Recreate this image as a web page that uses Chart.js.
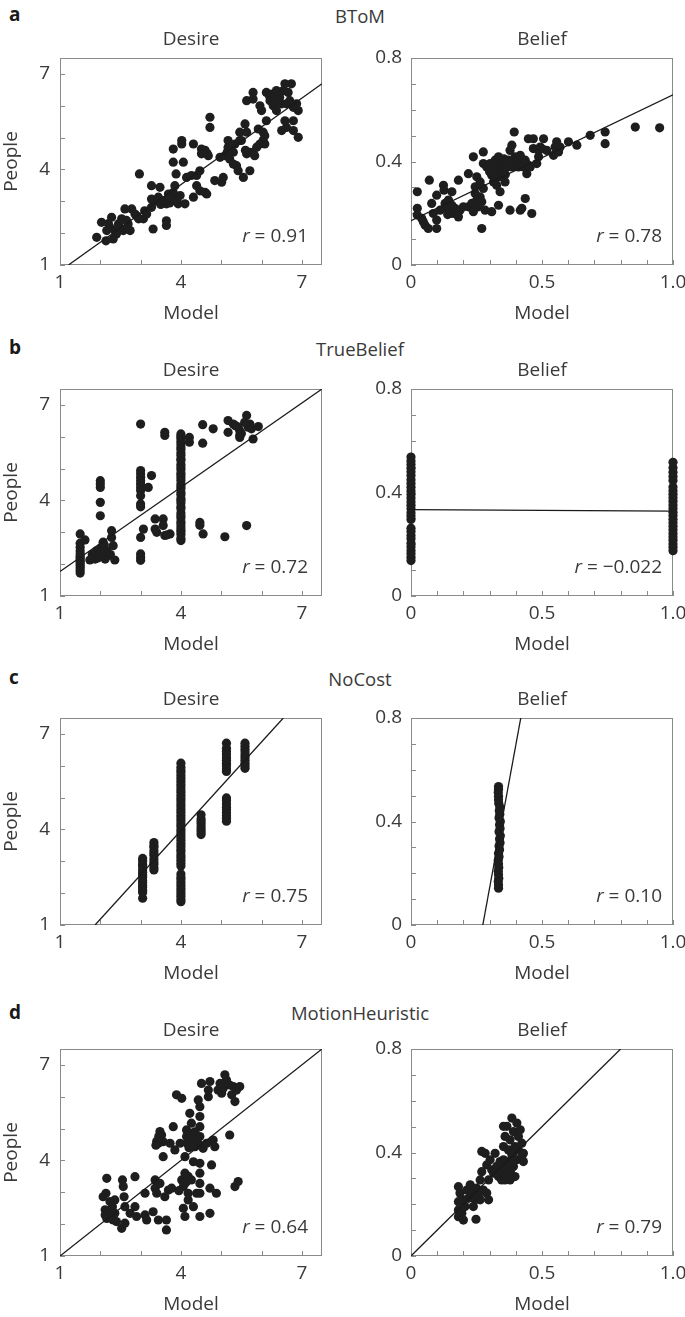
<!DOCTYPE html>
<html>
<head>
<meta charset="utf-8">
<script src="https://cdn.jsdelivr.net/npm/chart.js@4.4.1/dist/chart.umd.min.js"></script>
<style>
  body { margin: 0; background: #fff; width: 685px; height: 1317px; position: relative; overflow: hidden; }
  .lbl { position: absolute; font-family: 'Open Sans', 'Noto Sans', sans-serif; color: #3a3a3a; line-height: 22px; }
  .let { font-weight: bold; font-size: 19px; left: 9px; color: #1a1a1a; }
  .row { font-size: 18.5px; width: 300px; left: 210px; text-align: center; }
  canvas { position: absolute; }
</style>
</head>
<body>
<div class="lbl let" style="top:3px">a</div>
<div class="lbl row" style="top:5px">BToM</div>
<div class="lbl let" style="top:336px">b</div>
<div class="lbl row" style="top:338px">TrueBelief</div>
<div class="lbl let" style="top:666px">c</div>
<div class="lbl row" style="top:668px">NoCost</div>
<div class="lbl let" style="top:1001px">d</div>
<div class="lbl row" style="top:1002px">MotionHeuristic</div>
<script>
// tick positions and labels
var desireTicks = [1, 2, 3, 4, 5, 6, 7];
var desireLabelAt = [1, 4, 7];
var desireLabelText = ["1", "4", "7"];
var beliefXTicks = [0, 0.1, 0.2, 0.3, 0.4, 0.5, 0.6, 0.7, 0.8, 0.9, 1.0];
var beliefXLabelAt = [0, 0.5, 1.0];
var beliefXLabelText = ["0", "0.5", "1.0"];
var beliefYTicks = [0, 0.1, 0.2, 0.3, 0.4, 0.5, 0.6, 0.7, 0.8];
var beliefYLabelAt = [0, 0.4, 0.8];
var beliefYLabelText = ["0", "0.4", "0.8"];

// correlations
var rValues = ["0.91", "0.78", "0.72", "\u22120.022", "0.75", "0.10", "0.64", "0.79"];

// fitted lines (two ends)
var btomDesireFit = [[1.21, 1], [7.5, 6.69]];
var btomBeliefFit = [[0, 0.171], [1, 0.658]];
var trueDesireFit = [[1, 1.77], [7.5, 7.5]];
var trueBeliefFit = [[0, 0.334], [1, 0.328]];
var noCostDesireFit = [[1.87, 1], [6.54, 7.5]];
var noCostBeliefFit = [[0.274, 0], [0.419, 0.8]];
var motionDesireFit = [[1, 1], [7.5, 7.5]];
var motionBeliefFit = [[0, 0], [0.8, 0.8]];

// scatter points [model, people]
var btomDesire = [[1.91,1.87],[2.03,2.34],[2.14,1.76],[2.28,2.50],[2.32,1.82],[2.36,2.08],[2.24,2.18],[2.45,2.29],[2.53,2.45],[2.57,2.08],
  [2.69,2.29],[2.74,2.08],[2.78,2.76],[2.61,2.76],[2.86,2.60],[2.16,2.08],[2.40,1.97],[2.48,2.18],[2.20,2.30],[2.65,2.40],
  [2.97,3.86],[2.90,2.55],[3.07,2.45],[3.15,2.60],[3.31,2.13],[3.27,2.81],[3.27,3.07],[3.27,3.49],[3.48,3.44],[3.44,3.13],
  [3.56,3.02],[3.69,3.23],[3.64,2.92],[3.64,2.39],[3.64,2.24],[3.77,3.02],[3.81,3.28],[3.85,3.49],[3.88,3.86],[3.81,4.23],
  [3.81,4.64],[3.89,3.07],[3.93,2.92],[3.98,3.18],[4.02,4.91],[4.02,4.80],[4.06,4.23],[4.10,2.92],[4.14,3.75],[4.26,3.81],
  [4.31,4.80],[4.31,3.13],[4.39,3.81],[4.39,3.49],[4.47,3.96],[4.47,3.33],[4.51,4.64],[4.55,4.54],[4.60,3.28],[4.64,3.23],
  [4.51,4.49],[4.68,4.43],[4.72,5.64],[4.72,5.32],[4.84,3.65],[4.97,4.38],[5.01,3.60],[5.05,3.75],[5.09,4.43],[5.17,4.70],
  [5.17,4.91],[5.21,4.33],[5.30,4.54],[5.30,4.17],[5.38,4.12],[5.34,4.80],[5.42,3.96],[5.46,5.17],[5.46,4.91],[5.50,4.91],
  [5.55,3.75],[5.59,5.43],[5.63,5.17],[5.63,4.49],[5.71,4.54],[5.71,3.96],[5.63,6.16],[5.79,6.42],[5.79,6.21],[5.79,4.54],
  [5.83,4.43],[5.88,4.70],[5.92,5.27],[5.96,4.80],[6.04,4.91],[6.08,5.06],[6.08,4.80],[6.04,5.17],[6.12,5.53],[5.96,6.00],
  [6.00,5.85],[6.12,6.42],[6.21,6.16],[6.26,6.37],[6.29,6.00],[6.33,6.21],[6.37,6.48],[6.45,6.27],[6.50,6.06],[6.54,6.48],
  [6.58,6.69],[6.62,6.06],[6.66,6.42],[6.74,6.69],[6.70,6.16],[6.79,5.95],[6.87,6.06],[6.91,5.85],[6.50,5.22],[6.62,5.32],
  [6.79,5.53],[6.79,5.22],[6.91,5.01],[6.58,5.53],[6.37,5.85],[3.72,2.95],[3.78,3.12],[3.90,3.00],[3.70,3.10],[4.60,4.60],
  [4.65,4.50],[5.15,4.55],[5.25,4.70],[3.35,3.00],[3.50,2.90],[3.10,2.70],[2.95,2.45],[5.60,4.60],[6.20,6.30],[6.40,6.10]];

var btomBelief = [[0.024,0.283],[0.024,0.219],[0.024,0.193],[0.041,0.180],[0.047,0.167],[0.054,0.154],[0.066,0.141],[0.070,0.328],[0.079,0.238],[0.085,0.199],
  [0.098,0.270],[0.098,0.174],[0.098,0.141],[0.111,0.212],[0.124,0.308],[0.126,0.289],[0.130,0.238],[0.136,0.219],[0.143,0.251],[0.149,0.212],
  [0.156,0.283],[0.156,0.231],[0.162,0.199],[0.168,0.219],[0.175,0.212],[0.181,0.328],[0.181,0.186],[0.187,0.212],[0.219,0.353],[0.219,0.225],
  [0.232,0.238],[0.238,0.206],[0.238,0.418],[0.245,0.302],[0.245,0.276],[0.251,0.341],[0.251,0.251],[0.257,0.225],[0.264,0.321],[0.264,0.263],
  [0.270,0.244],[0.270,0.141],[0.276,0.296],[0.276,0.437],[0.276,0.392],[0.283,0.212],[0.289,0.379],[0.302,0.392],[0.308,0.206],[0.308,0.347],
  [0.315,0.321],[0.315,0.379],[0.321,0.405],[0.327,0.353],[0.327,0.308],[0.334,0.231],[0.334,0.418],[0.340,0.379],[0.340,0.283],[0.346,0.341],
  [0.353,0.392],[0.353,0.360],[0.359,0.321],[0.366,0.379],[0.372,0.405],[0.378,0.212],[0.378,0.443],[0.385,0.463],[0.385,0.379],[0.391,0.386],
  [0.394,0.514],[0.397,0.418],[0.404,0.398],[0.410,0.379],[0.417,0.424],[0.417,0.212],[0.423,0.219],[0.423,0.392],[0.429,0.379],[0.436,0.405],
  [0.436,0.257],[0.442,0.353],[0.448,0.488],[0.448,0.386],[0.455,0.379],[0.461,0.199],[0.467,0.488],[0.467,0.450],[0.480,0.392],[0.487,0.418],
  [0.487,0.443],[0.493,0.456],[0.499,0.450],[0.506,0.488],[0.518,0.443],[0.544,0.424],[0.550,0.456],[0.556,0.476],[0.563,0.437],[0.569,0.456],
  [0.601,0.476],[0.633,0.463],[0.684,0.501],[0.741,0.514],[0.741,0.469],[0.856,0.533],[0.949,0.530],[0.330,0.370],[0.345,0.395],[0.360,0.350],
  [0.325,0.335],[0.355,0.410],[0.300,0.360],[0.150,0.200],[0.200,0.225],[0.140,0.195]];

var trueDesire = [[1.5,1.72],[1.5,1.80],[1.5,1.88],[1.5,1.95],[1.5,2.01],[1.5,2.08],[1.5,2.13],[1.5,2.19],[1.5,2.24],[1.5,2.32],
  [1.5,2.41],[1.5,2.53],[1.5,2.66],[1.5,2.95],[1.62,2.76],[1.74,2.13],[1.87,2.16],[1.91,2.42],[2.0,4.62],[2.0,4.52],
  [2.0,4.41],[2.0,3.94],[2.0,3.52],[2.0,2.32],[2.03,2.53],[2.07,2.69],[2.12,2.16],[2.16,2.42],[2.20,2.27],[2.28,2.84],
  [2.28,3.05],[2.32,2.58],[2.36,2.13],[1.95,2.20],[2.10,2.60],[2.25,2.30],[1.80,2.30],[2.05,2.40],
  [3.0,4.94],[3.0,4.84],[3.0,4.73],[3.0,4.62],[3.0,4.52],[3.0,4.41],[3.0,4.31],[3.0,4.15],[3.0,3.89],[3.0,3.80],
  [3.0,2.32],[3.0,2.22],[3.0,2.12],[3.0,2.84],[3.19,4.41],[3.27,4.78],[3.07,3.10],[3.0,6.40],
  [3.36,3.42],[3.40,3.00],[3.36,3.10],[3.56,3.42],[3.56,3.21],[3.60,6.14],[3.60,6.04],[3.60,2.90],[3.73,2.95],[3.66,2.92],
  [4.0,2.74],[4.0,2.81],[4.0,2.93],[4.0,3.02],[4.0,3.08],[4.0,3.17],[4.0,3.26],[4.0,3.33],[4.0,3.45],[4.0,3.52],
  [4.0,3.61],[4.0,3.74],[4.0,3.80],[4.0,3.92],[4.0,4.00],[4.0,4.06],[4.0,4.18],[4.0,4.25],[4.0,4.37],[4.0,4.44],
  [4.0,4.52],[4.0,4.63],[4.0,4.71],[4.0,4.80],[4.0,4.86],[4.0,4.97],[4.0,5.05],[4.0,5.14],[4.0,5.26],[4.0,5.31],
  [4.0,5.42],[4.0,5.50],[4.0,5.61],[4.0,5.68],[4.0,5.77],[4.0,5.86],[4.0,5.95],[4.0,6.02],[4.0,6.09],
  [4.21,5.98],[4.21,5.83],[4.47,3.31],[4.47,3.22],[4.55,2.95],[4.54,6.38],[4.54,5.80],[4.80,6.25],[5.09,2.86],[5.17,6.51],
  [5.17,6.14],[5.30,6.40],[5.42,6.30],[5.46,6.19],[5.46,5.98],[5.63,6.67],[5.67,6.30],[5.71,6.40],[5.75,6.25],[5.92,6.32],
  [5.79,5.93],[5.63,3.21],[5.50,6.10],[5.58,6.45],[5.35,6.35],[5.46,6.05]];

var trueBelief = [[0,0.137],[0,0.150],[0,0.163],[0,0.176],[0,0.190],[0,0.204],[0,0.221],[0,0.234],[0,0.249],[0,0.262],
  [0,0.296],[0,0.309],[0,0.322],[0,0.337],[0,0.351],[0,0.364],[0,0.379],[0,0.392],[0,0.406],[0,0.420],
  [0,0.435],[0,0.449],[0,0.466],[0,0.480],[0,0.494],[0,0.508],[0,0.522],[0,0.537],
  [1,0.175],[1,0.188],[1,0.201],[1,0.215],[1,0.228],[1,0.242],[1,0.256],[1,0.270],[1,0.283],[1,0.297],
  [1,0.311],[1,0.324],[1,0.338],[1,0.352],[1,0.366],[1,0.380],[1,0.393],[1,0.407],[1,0.421],[1,0.446],
  [1,0.462],[1,0.478],[1,0.496],[1,0.517]];

var noCostDesire = [[3.05,1.84],[3.05,2.02],[3.05,2.09],[3.05,2.18],[3.05,2.24],[3.05,2.33],[3.05,2.40],[3.05,2.51],[3.05,2.57],[3.05,2.66],
  [3.05,2.74],[3.05,2.85],[3.05,2.91],[3.05,3.01],[3.05,3.09],
  [3.33,2.73],[3.33,2.80],[3.33,2.91],[3.33,2.98],[3.33,3.07],[3.33,3.18],[3.33,3.25],[3.33,3.33],[3.33,3.44],[3.33,3.50],[3.33,3.59],
  [4.0,1.73],[4.0,1.81],[4.0,1.90],[4.0,1.98],[4.0,2.07],[4.0,2.15],[4.0,2.24],[4.0,2.33],[4.0,2.42],[4.0,2.50],[4.0,2.60],
  [4.0,2.85],[4.0,2.94],[4.0,3.03],[4.0,3.12],[4.0,3.20],[4.0,3.30],[4.0,3.38],[4.0,3.47],[4.0,3.56],[4.0,3.65],
  [4.0,3.74],[4.0,3.83],[4.0,3.92],[4.0,4.00],[4.0,4.10],[4.0,4.18],[4.0,4.27],[4.0,4.36],[4.0,4.45],[4.0,4.54],
  [4.0,4.62],[4.0,4.71],[4.0,4.80],[4.0,4.89],[4.0,4.98],[4.0,5.07],[4.0,5.16],[4.0,5.24],[4.0,5.33],[4.0,5.42],
  [4.0,5.51],[4.0,5.60],[4.0,5.69],[4.0,5.78],[4.0,5.86],[4.0,5.95],[4.0,6.08],
  [4.5,3.84],[4.5,3.92],[4.5,4.00],[4.5,4.08],[4.5,4.17],[4.5,4.25],[4.5,4.33],[4.5,4.46],
  [5.13,5.82],[5.13,5.90],[5.13,6.00],[5.13,6.08],[5.13,6.17],[5.13,6.25],[5.13,6.35],[5.13,6.45],[5.13,6.55],[5.13,6.71],
  [5.13,4.26],[5.13,4.35],[5.13,4.44],[5.13,4.53],[5.13,4.62],[5.13,4.70],[5.13,4.80],[5.13,4.90],[5.13,4.99],
  [5.59,5.92],[5.59,6.00],[5.59,6.08],[5.59,6.17],[5.59,6.26],[5.59,6.34],[5.59,6.43],[5.59,6.52],[5.59,6.61],[5.59,6.71]];

var noCostBelief = [[0.334,0.142],[0.334,0.155],[0.333,0.168],[0.335,0.181],[0.334,0.195],[0.333,0.208],[0.335,0.222],[0.334,0.236],[0.333,0.250],[0.336,0.264],
  [0.334,0.277],[0.338,0.291],[0.336,0.305],[0.340,0.318],[0.338,0.332],[0.341,0.345],[0.336,0.360],[0.340,0.373],[0.338,0.387],[0.341,0.400],
  [0.336,0.414],[0.339,0.428],[0.337,0.442],[0.339,0.456],[0.335,0.470],[0.334,0.484],[0.334,0.498],[0.333,0.512],[0.334,0.525],[0.334,0.535]];

var motionDesire = [[2.16,3.44],[2.14,2.97],[2.07,2.86],[2.12,2.45],[2.12,2.29],[2.16,2.18],[2.24,2.71],[2.28,2.18],[2.32,2.13],[2.36,2.34],
  [2.36,2.76],[2.40,2.08],[2.53,1.87],[2.55,3.39],[2.57,3.18],[2.59,2.86],[2.61,2.03],[2.61,2.55],[2.74,2.34],[2.86,3.49],
  [2.86,2.55],[2.90,2.24],[3.11,2.97],[3.11,2.29],[3.15,2.13],[3.31,2.39],[3.36,3.39],[3.36,3.13],[3.40,2.97],[3.44,2.13],
  [3.48,3.28],[3.48,4.91],[3.44,4.54],[3.52,4.80],[3.56,4.59],[3.56,4.12],[3.60,2.86],[3.64,2.13],[3.64,1.82],[3.69,3.07],
  [3.73,4.54],[3.77,3.13],[3.81,5.06],[3.85,4.33],[3.89,6.06],[4.02,5.95],[3.98,4.54],[4.02,3.39],[4.06,3.18],[4.06,2.50],
  [4.10,4.12],[4.10,3.60],[4.10,2.24],[4.14,4.75],[4.14,4.96],[4.18,2.97],[4.18,2.76],[4.22,5.48],[4.22,4.43],[4.26,5.17],
  [4.26,3.39],[4.31,2.55],[4.31,3.96],[4.35,4.75],[4.35,4.43],[4.39,2.97],[4.43,5.90],[4.47,5.69],[4.47,5.38],[4.47,5.06],
  [4.47,4.75],[4.47,3.91],[4.47,3.60],[4.47,3.28],[4.47,2.97],[4.47,2.24],[4.51,6.42],[4.55,4.38],[4.64,4.54],[4.68,6.21],
  [4.68,6.00],[4.72,6.48],[4.72,3.13],[4.72,2.34],[4.76,3.86],[4.80,4.64],[4.84,4.43],[4.88,2.97],[4.92,6.21],[4.97,6.42],
  [5.01,6.11],[5.05,6.27],[5.09,6.69],[5.13,6.53],[5.21,6.37],[5.26,6.06],[5.30,6.32],[5.34,5.85],[5.38,6.21],[5.21,4.80],
  [5.34,3.18],[5.42,3.34],[5.46,6.32],[4.20,4.60],[4.25,4.85],[4.30,4.70],[4.15,4.55],[4.35,4.90],[4.40,4.65],[4.45,4.50],
  [4.20,4.40],[4.30,4.45],[3.40,4.60],[3.45,4.75],[3.38,4.48],[4.12,3.30],[4.18,3.50],[3.95,3.05],[2.20,2.40],[2.30,2.55]];

var motionBelief = [[0.181,0.268],[0.181,0.210],[0.181,0.178],[0.181,0.152],[0.187,0.243],[0.194,0.165],[0.200,0.139],[0.200,0.217],[0.206,0.191],[0.213,0.255],
  [0.219,0.223],[0.226,0.275],[0.232,0.243],[0.238,0.191],[0.245,0.217],[0.248,0.142],[0.251,0.262],[0.257,0.236],[0.264,0.294],[0.264,0.217],
  [0.270,0.404],[0.270,0.326],[0.276,0.255],[0.283,0.397],[0.289,0.352],[0.289,0.243],[0.296,0.294],[0.296,0.217],[0.302,0.372],[0.308,0.333],
  [0.315,0.320],[0.321,0.397],[0.327,0.346],[0.334,0.307],[0.340,0.326],[0.340,0.365],[0.346,0.294],[0.353,0.423],[0.353,0.372],[0.359,0.462],
  [0.359,0.346],[0.359,0.294],[0.366,0.501],[0.366,0.313],[0.372,0.410],[0.372,0.365],[0.378,0.294],[0.378,0.449],[0.385,0.533],[0.385,0.391],
  [0.391,0.346],[0.391,0.481],[0.397,0.423],[0.397,0.307],[0.404,0.514],[0.404,0.372],[0.410,0.462],[0.410,0.410],[0.417,0.488],[0.423,0.436],
  [0.423,0.385],[0.429,0.397],[0.429,0.365],[0.353,0.501],[0.365,0.340],[0.380,0.330],[0.390,0.400],[0.370,0.300],[0.345,0.330],[0.385,0.360]];

var FONT = "'Open Sans', 'Noto Sans', sans-serif";
var TEXT = "#3a3a3a";
var SIZE = 19;

function pts(list) {
  return list.map(function (p) { return { x: p[0], y: p[1] }; });
}

function labelFor(at, text) {
  return function (v) {
    for (var i = 0; i < at.length; i++) {
      if (Math.abs(at[i] - v) < 1e-6) return text[i];
    }
    return "";
  };
}

// box round the plot, inward ticks and the r label
var frame = {
  id: "frame",
  beforeDatasetsDraw: function (chart) {
    var ctx = chart.ctx, a = chart.chartArea;
    var x = chart.scales.x, y = chart.scales.y;
    ctx.save();
    ctx.strokeStyle = "#8a8a8a";
    ctx.lineWidth = 1;
    ctx.strokeRect(a.left + 0.5, a.top + 0.5, a.right - a.left - 1, a.bottom - a.top - 1);
    ctx.beginPath();
    x.ticks.forEach(function (t) {
      var px = Math.round(x.getPixelForValue(t.value)) + 0.5;
      ctx.moveTo(px, a.bottom);
      ctx.lineTo(px, a.bottom - 5);
    });
    y.ticks.forEach(function (t) {
      var py = Math.round(y.getPixelForValue(t.value)) + 0.5;
      ctx.moveTo(a.left, py);
      ctx.lineTo(a.left + 5, py);
    });
    ctx.stroke();
    ctx.restore();
  },
  afterDatasetsDraw: function (chart, args, opts) {
    var ctx = chart.ctx, a = chart.chartArea;
    ctx.save();
    ctx.fillStyle = TEXT;
    ctx.textBaseline = "middle";
    ctx.textAlign = "right";
    ctx.font = SIZE + "px " + FONT;
    var rest = " = " + opts.r;
    var xr = a.right - opts.inset;
    var yr = a.bottom - 28;
    ctx.fillText(rest, xr, yr);
    var w = ctx.measureText(rest).width;
    ctx.font = "italic " + SIZE + "px " + FONT;
    ctx.fillText("r", xr - w, yr);
    ctx.restore();
  }
};

function panel(o) {
  var cv = document.createElement("canvas");
  cv.width = o.w;
  cv.height = 305;
  cv.style.left = o.left + "px";
  cv.style.top = o.top + "px";
  document.body.appendChild(cv);
  var tickFont = { family: FONT, size: SIZE };
  new Chart(cv, {
    type: "scatter",
    data: {
      datasets: [
        {
          type: "line",
          data: pts(o.fit),
          borderColor: "#1a1a1a",
          borderWidth: 1.3,
          pointRadius: 0,
          fill: false
        },
        {
          data: pts(o.data),
          backgroundColor: "#1e1e1e",
          borderWidth: 0,
          pointRadius: 4.6,
          clip: false
        }
      ]
    },
    options: {
      responsive: false,
      animation: false,
      layout: { padding: { left: 0, top: 0, bottom: 0, right: o.rightPad } },
      plugins: {
        legend: { display: false },
        tooltip: { enabled: false },
        title: {
          display: true,
          text: o.title,
          color: TEXT,
          fullSize: false,
          font: { family: FONT, size: SIZE, weight: "normal" },
          padding: { top: 8, bottom: 7.2 }
        },
        frame: { r: o.r, inset: o.inset }
      },
      scales: {
        x: {
          type: "linear",
          min: o.xMin, max: o.xMax,
          afterBuildTicks: function (s) { s.ticks = o.xTicks.map(function (v) { return { value: v }; }); },
          afterFit: function (s) { s.height = 60; s.paddingLeft = 0; s.paddingRight = 0; },
          grid: { display: false, drawTicks: false },
          border: { display: false },
          ticks: { color: TEXT, font: tickFont, padding: 6.5, maxRotation: 0, autoSkip: false,
                    callback: labelFor(o.xAt, o.xText) },
          title: { display: true, text: "Model", color: TEXT, font: tickFont, padding: { top: 0, bottom: 0 } }
        },
        y: {
          type: "linear",
          min: o.yMin, max: o.yMax,
          afterBuildTicks: function (s) { s.ticks = o.yTicks.map(function (v) { return { value: v }; }); },
          afterFit: function (s) { s.width = o.yw; s.paddingTop = 0; s.paddingBottom = 0; },
          grid: { display: false, drawTicks: false },
          border: { display: false },
          ticks: { color: TEXT, font: tickFont, padding: o.yPad, autoSkip: false,
                   callback: labelFor(o.yAt, o.yText) },
          title: { display: o.people, text: "People", color: TEXT, font: tickFont, padding: { top: 0, bottom: 0 } }
        }
      }
    },
    plugins: [frame]
  });
}

var rowTops = [20, 351, 680, 1011];
var desireFits = [btomDesireFit, trueDesireFit, noCostDesireFit, motionDesireFit];
var beliefFits = [btomBeliefFit, trueBeliefFit, noCostBeliefFit, motionBeliefFit];
var desireSets = [btomDesire, trueDesire, noCostDesire, motionDesire];
var beliefSets = [btomBelief, trueBelief, noCostBelief, motionBelief];

for (var i = 0; i < 4; i++) {
  panel({
    left: 0, top: rowTops[i], w: 330, yw: 60, yPad: 10, rightPad: 8, inset: 14,
    title: "Desire", people: true, r: rValues[i * 2],
    data: desireSets[i], fit: desireFits[i],
    xMin: 1, xMax: 7.5, yMin: 1, yMax: 7.5,
    xTicks: desireTicks, yTicks: desireTicks,
    xAt: desireLabelAt, xText: desireLabelText, yAt: desireLabelAt, yText: desireLabelText
  });
  panel({
    left: 340, top: rowTops[i], w: 345, yw: 71, yPad: 9, rightPad: 12, inset: 11,
    title: "Belief", people: false, r: rValues[i * 2 + 1],
    data: beliefSets[i], fit: beliefFits[i],
    xMin: 0, xMax: 1, yMin: 0, yMax: 0.8,
    xTicks: beliefXTicks, yTicks: beliefYTicks,
    xAt: beliefXLabelAt, xText: beliefXLabelText, yAt: beliefYLabelAt, yText: beliefYLabelText
  });
}
</script>
</body>
</html>
